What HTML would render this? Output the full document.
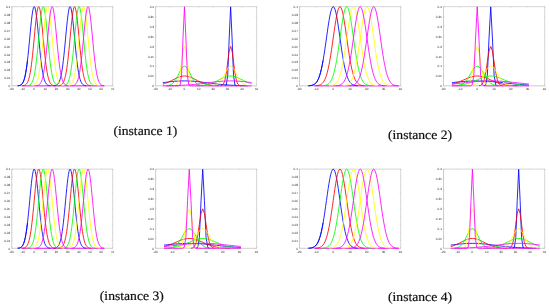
<!DOCTYPE html>
<html><head><meta charset="utf-8"><title>instances</title>
<style>
html,body{margin:0;padding:0;background:#fff;}
body{width:550px;height:307px;overflow:hidden;}
svg{display:block;}
.tk text{font-family:"Liberation Sans",sans-serif;font-size:3.1px;fill:#222;text-rendering:geometricPrecision;}
.cap{font-family:"Liberation Serif","DejaVu Serif",serif;font-size:12.9px;fill:#111;stroke:#111;stroke-width:0.2px;text-rendering:geometricPrecision;}
</style></head><body>
<svg width="550" height="307" viewBox="0 0 550 307">
<rect width="550" height="307" fill="#fff"/>
<path d="M11.80 6.65H112.70V85.85" fill="none" stroke="#b4b4b4" stroke-width="0.55"/>
<path d="M11.80 6.65V85.85H112.70" fill="none" stroke="#a4a4a4" stroke-width="0.55"/>
<path d="M11.80 85.85v-1M11.80 6.65v1M23.01 85.85v-1M23.01 6.65v1M34.22 85.85v-1M34.22 6.65v1M45.43 85.85v-1M45.43 6.65v1M56.64 85.85v-1M56.64 6.65v1M67.86 85.85v-1M67.86 6.65v1M79.07 85.85v-1M79.07 6.65v1M90.28 85.85v-1M90.28 6.65v1M101.49 85.85v-1M101.49 6.65v1M112.70 85.85v-1M112.70 6.65v1M11.80 85.85h1M112.70 85.85h-1M11.80 77.93h1M112.70 77.93h-1M11.80 70.01h1M112.70 70.01h-1M11.80 62.09h1M112.70 62.09h-1M11.80 54.17h1M112.70 54.17h-1M11.80 46.25h1M112.70 46.25h-1M11.80 38.33h1M112.70 38.33h-1M11.80 30.41h1M112.70 30.41h-1M11.80 22.49h1M112.70 22.49h-1M11.80 14.57h1M112.70 14.57h-1M11.80 6.65h1M112.70 6.65h-1" stroke="#b0b0b0" stroke-width="0.4" fill="none"/>
<g class="tk" text-anchor="middle">
<text x="11.60" y="90.30">-20</text>
<text x="22.81" y="90.30">-10</text>
<text x="34.02" y="90.30">0</text>
<text x="45.23" y="90.30">10</text>
<text x="56.44" y="90.30">20</text>
<text x="67.66" y="90.30">30</text>
<text x="78.87" y="90.30">40</text>
<text x="90.08" y="90.30">50</text>
<text x="101.29" y="90.30">60</text>
<text x="112.50" y="90.30">70</text>
</g>
<g class="tk" text-anchor="end">
<text x="10.20" y="87.20">0</text>
<text x="10.20" y="79.28">0.01</text>
<text x="10.20" y="71.36">0.02</text>
<text x="10.20" y="63.44">0.03</text>
<text x="10.20" y="55.52">0.04</text>
<text x="10.20" y="47.60">0.05</text>
<text x="10.20" y="39.68">0.06</text>
<text x="10.20" y="31.76">0.07</text>
<text x="10.20" y="23.84">0.08</text>
<text x="10.20" y="15.92">0.09</text>
<text x="10.20" y="8.00">0.1</text>
</g>
<polyline points="17.41,85.78 17.97,85.74 18.53,85.68 19.09,85.59 19.65,85.46 20.21,85.26 20.77,84.99 21.33,84.61 21.89,84.08 22.45,83.37 23.01,82.42 23.57,81.20 24.13,79.63 24.69,77.66 25.25,75.24 25.81,72.32 26.37,68.86 26.94,64.84 27.50,60.29" fill="none" stroke="#0000ff" stroke-width="0.85" stroke-linejoin="round"/>
<polyline points="21.55,85.85 104.29,85.85" fill="none" stroke="#ff00ff" stroke-width="0.85" stroke-linejoin="round"/>
<polyline points="17.97,85.74 18.53,85.68 19.09,85.59 19.65,85.46 20.21,85.26 20.77,84.99 21.33,84.61 21.89,84.08 22.45,83.37 23.01,82.42 23.57,81.20 24.13,79.63 24.69,77.66 25.25,75.24 25.81,72.32 26.37,68.86 26.94,64.84 27.50,60.29 28.06,55.23 28.62,49.74 29.18,43.93 29.74,37.94 30.30,31.95 30.86,26.16 31.42,20.78 31.98,16.01 32.54,12.06 33.10,9.11 33.66,7.28 34.22,6.66 34.78,7.28 35.34,9.11 35.90,12.06 36.46,16.01 37.03,20.78 37.59,26.16 38.15,31.95 38.71,37.94 39.27,43.93 39.83,49.74 40.39,55.23 40.95,60.29 41.51,64.84 42.07,68.86 42.63,72.32 43.19,75.24 43.75,77.66 44.31,79.63 44.87,81.20 45.43,82.42 45.99,83.37 46.55,84.08 47.12,84.61 47.68,84.99 48.24,85.26 48.80,85.46 49.36,85.59 49.92,85.68 50.48,85.74" fill="none" stroke="#0000ff" stroke-width="0.85" stroke-linejoin="round"/>
<polyline points="53.84,85.74 54.40,85.68 54.96,85.59 55.52,85.46 56.08,85.26 56.64,84.99 57.20,84.61 57.77,84.08 58.33,83.37 58.89,82.42 59.45,81.20 60.01,79.63 60.57,77.66 61.13,75.24 61.69,72.32 62.25,68.86 62.81,64.84 63.37,60.29 63.93,55.23 64.49,49.74 65.05,43.93 65.61,37.94 66.17,31.95 66.73,26.16 67.30,20.78 67.86,16.01 68.42,12.06 68.98,9.11 69.54,7.28 70.10,6.66 70.66,7.28 71.22,9.11 71.78,12.06 72.34,16.01 72.90,20.78 73.46,26.16 74.02,31.95 74.58,37.94 75.14,43.93 75.70,49.74 76.26,55.23 76.82,60.29 77.39,64.84 77.95,68.86 78.51,72.32 79.07,75.24 79.63,77.66 80.19,79.63 80.75,81.20 81.31,82.42 81.87,83.37 82.43,84.08 82.99,84.61 83.55,84.99 84.11,85.26 84.67,85.46 85.23,85.59 85.79,85.68 86.35,85.74" fill="none" stroke="#0000ff" stroke-width="0.85" stroke-linejoin="round"/>
<polyline points="22.45,85.74 23.01,85.68 23.57,85.59 24.13,85.46 24.69,85.26 25.25,84.99 25.81,84.61 26.37,84.08 26.94,83.37 27.50,82.42 28.06,81.20 28.62,79.63 29.18,77.66 29.74,75.24 30.30,72.32 30.86,68.86 31.42,64.84 31.98,60.29 32.54,55.23 33.10,49.74 33.66,43.93 34.22,37.94 34.78,31.95 35.34,26.16 35.90,20.78 36.46,16.01 37.03,12.06 37.59,9.11 38.15,7.28 38.71,6.66 39.27,7.28 39.83,9.11 40.39,12.06 40.95,16.01 41.51,20.78 42.07,26.16 42.63,31.95 43.19,37.94 43.75,43.93 44.31,49.74 44.87,55.23 45.43,60.29 45.99,64.84 46.55,68.86 47.12,72.32 47.68,75.24 48.24,77.66 48.80,79.63 49.36,81.20 49.92,82.42 50.48,83.37 51.04,84.08 51.60,84.61 52.16,84.99 52.72,85.26 53.28,85.46 53.84,85.59 54.40,85.68 54.96,85.74" fill="none" stroke="#ff0000" stroke-width="0.85" stroke-linejoin="round"/>
<polyline points="58.33,85.74 58.89,85.68 59.45,85.59 60.01,85.46 60.57,85.26 61.13,84.99 61.69,84.61 62.25,84.08 62.81,83.37 63.37,82.42 63.93,81.20 64.49,79.63 65.05,77.66 65.61,75.24 66.17,72.32 66.73,68.86 67.30,64.84 67.86,60.29 68.42,55.23 68.98,49.74 69.54,43.93 70.10,37.94 70.66,31.95 71.22,26.16 71.78,20.78 72.34,16.01 72.90,12.06 73.46,9.11 74.02,7.28 74.58,6.66 75.14,7.28 75.70,9.11 76.26,12.06 76.82,16.01 77.39,20.78 77.95,26.16 78.51,31.95 79.07,37.94 79.63,43.93 80.19,49.74 80.75,55.23 81.31,60.29 81.87,64.84 82.43,68.86 82.99,72.32 83.55,75.24 84.11,77.66 84.67,79.63 85.23,81.20 85.79,82.42 86.35,83.37 86.91,84.08 87.47,84.61 88.04,84.99 88.60,85.26 89.16,85.46 89.72,85.59 90.28,85.68 90.84,85.74" fill="none" stroke="#ff0000" stroke-width="0.85" stroke-linejoin="round"/>
<polyline points="26.94,85.74 27.50,85.68 28.06,85.59 28.62,85.46 29.18,85.26 29.74,84.99 30.30,84.61 30.86,84.08 31.42,83.37 31.98,82.42 32.54,81.20 33.10,79.63 33.66,77.66 34.22,75.24 34.78,72.32 35.34,68.86 35.90,64.84 36.46,60.29 37.03,55.23 37.59,49.74 38.15,43.93 38.71,37.94 39.27,31.95 39.83,26.16 40.39,20.78 40.95,16.01 41.51,12.06 42.07,9.11 42.63,7.28 43.19,6.66 43.75,7.28 44.31,9.11 44.87,12.06 45.43,16.01 45.99,20.78 46.55,26.16 47.12,31.95 47.68,37.94 48.24,43.93 48.80,49.74 49.36,55.23 49.92,60.29 50.48,64.84 51.04,68.86 51.60,72.32 52.16,75.24 52.72,77.66 53.28,79.63 53.84,81.20 54.40,82.42 54.96,83.37 55.52,84.08 56.08,84.61 56.64,84.99 57.20,85.26 57.77,85.46 58.33,85.59 58.89,85.68 59.45,85.74" fill="none" stroke="#00ff00" stroke-width="0.85" stroke-linejoin="round"/>
<polyline points="62.81,85.74 63.37,85.68 63.93,85.59 64.49,85.46 65.05,85.26 65.61,84.99 66.17,84.61 66.73,84.08 67.30,83.37 67.86,82.42 68.42,81.20 68.98,79.63 69.54,77.66 70.10,75.24 70.66,72.32 71.22,68.86 71.78,64.84 72.34,60.29 72.90,55.23 73.46,49.74 74.02,43.93 74.58,37.94 75.14,31.95 75.70,26.16 76.26,20.78 76.82,16.01 77.39,12.06 77.95,9.11 78.51,7.28 79.07,6.66 79.63,7.28 80.19,9.11 80.75,12.06 81.31,16.01 81.87,20.78 82.43,26.16 82.99,31.95 83.55,37.94 84.11,43.93 84.67,49.74 85.23,55.23 85.79,60.29 86.35,64.84 86.91,68.86 87.47,72.32 88.04,75.24 88.60,77.66 89.16,79.63 89.72,81.20 90.28,82.42 90.84,83.37 91.40,84.08 91.96,84.61 92.52,84.99 93.08,85.26 93.64,85.46 94.20,85.59 94.76,85.68 95.32,85.74" fill="none" stroke="#00ff00" stroke-width="0.85" stroke-linejoin="round"/>
<polyline points="31.42,85.74 31.98,85.68 32.54,85.59 33.10,85.46 33.66,85.26 34.22,84.99 34.78,84.61 35.34,84.08 35.90,83.37 36.46,82.42 37.03,81.20 37.59,79.63 38.15,77.66 38.71,75.24 39.27,72.32 39.83,68.86 40.39,64.84 40.95,60.29 41.51,55.23 42.07,49.74 42.63,43.93 43.19,37.94 43.75,31.95 44.31,26.16 44.87,20.78 45.43,16.01 45.99,12.06 46.55,9.11 47.12,7.28 47.68,6.66 48.24,7.28 48.80,9.11 49.36,12.06 49.92,16.01 50.48,20.78 51.04,26.16 51.60,31.95 52.16,37.94 52.72,43.93 53.28,49.74 53.84,55.23 54.40,60.29 54.96,64.84 55.52,68.86 56.08,72.32 56.64,75.24 57.20,77.66 57.77,79.63 58.33,81.20 58.89,82.42 59.45,83.37 60.01,84.08 60.57,84.61 61.13,84.99 61.69,85.26 62.25,85.46 62.81,85.59 63.37,85.68 63.93,85.74" fill="none" stroke="#ffff00" stroke-width="0.85" stroke-linejoin="round"/>
<polyline points="67.30,85.74 67.86,85.68 68.42,85.59 68.98,85.46 69.54,85.26 70.10,84.99 70.66,84.61 71.22,84.08 71.78,83.37 72.34,82.42 72.90,81.20 73.46,79.63 74.02,77.66 74.58,75.24 75.14,72.32 75.70,68.86 76.26,64.84 76.82,60.29 77.39,55.23 77.95,49.74 78.51,43.93 79.07,37.94 79.63,31.95 80.19,26.16 80.75,20.78 81.31,16.01 81.87,12.06 82.43,9.11 82.99,7.28 83.55,6.66 84.11,7.28 84.67,9.11 85.23,12.06 85.79,16.01 86.35,20.78 86.91,26.16 87.47,31.95 88.04,37.94 88.60,43.93 89.16,49.74 89.72,55.23 90.28,60.29 90.84,64.84 91.40,68.86 91.96,72.32 92.52,75.24 93.08,77.66 93.64,79.63 94.20,81.20 94.76,82.42 95.32,83.37 95.88,84.08 96.44,84.61 97.00,84.99 97.56,85.26 98.13,85.46 98.69,85.59 99.25,85.68 99.81,85.74" fill="none" stroke="#ffff00" stroke-width="0.85" stroke-linejoin="round"/>
<polyline points="35.90,85.74 36.46,85.68 37.03,85.59 37.59,85.46 38.15,85.26 38.71,84.99 39.27,84.61 39.83,84.08 40.39,83.37 40.95,82.42 41.51,81.20 42.07,79.63 42.63,77.66 43.19,75.24 43.75,72.32 44.31,68.86 44.87,64.84 45.43,60.29 45.99,55.23 46.55,49.74 47.12,43.93 47.68,37.94 48.24,31.95 48.80,26.16 49.36,20.78 49.92,16.01 50.48,12.06 51.04,9.11 51.60,7.28 52.16,6.66 52.72,7.28 53.28,9.11 53.84,12.06 54.40,16.01 54.96,20.78 55.52,26.16 56.08,31.95 56.64,37.94 57.20,43.93 57.77,49.74 58.33,55.23 58.89,60.29 59.45,64.84 60.01,68.86 60.57,72.32 61.13,75.24 61.69,77.66 62.25,79.63 62.81,81.20 63.37,82.42 63.93,83.37 64.49,84.08 65.05,84.61 65.61,84.99 66.17,85.26 66.73,85.46 67.30,85.59 67.86,85.68 68.42,85.74" fill="none" stroke="#ff00ff" stroke-width="0.85" stroke-linejoin="round"/>
<polyline points="71.78,85.74 72.34,85.68 72.90,85.59 73.46,85.46 74.02,85.26 74.58,84.99 75.14,84.61 75.70,84.08 76.26,83.37 76.82,82.42 77.39,81.20 77.95,79.63 78.51,77.66 79.07,75.24 79.63,72.32 80.19,68.86 80.75,64.84 81.31,60.29 81.87,55.23 82.43,49.74 82.99,43.93 83.55,37.94 84.11,31.95 84.67,26.16 85.23,20.78 85.79,16.01 86.35,12.06 86.91,9.11 87.47,7.28 88.04,6.66 88.60,7.28 89.16,9.11 89.72,12.06 90.28,16.01 90.84,20.78 91.40,26.16 91.96,31.95 92.52,37.94 93.08,43.93 93.64,49.74 94.20,55.23 94.76,60.29 95.32,64.84 95.88,68.86 96.44,72.32 97.00,75.24 97.56,77.66 98.13,79.63 98.69,81.20 99.25,82.42 99.81,83.37 100.37,84.08 100.93,84.61 101.49,84.99 102.05,85.26 102.61,85.46 103.17,85.59 103.73,85.68 104.29,85.74" fill="none" stroke="#ff00ff" stroke-width="0.85" stroke-linejoin="round"/>
<path d="M155.60 6.65H256.60V85.85" fill="none" stroke="#b4b4b4" stroke-width="0.55"/>
<path d="M155.60 6.65V85.85H256.60" fill="none" stroke="#a4a4a4" stroke-width="0.55"/>
<path d="M155.60 85.85v-1M155.60 6.65v1M170.03 85.85v-1M170.03 6.65v1M184.46 85.85v-1M184.46 6.65v1M198.89 85.85v-1M198.89 6.65v1M213.31 85.85v-1M213.31 6.65v1M227.74 85.85v-1M227.74 6.65v1M242.17 85.85v-1M242.17 6.65v1M256.60 85.85v-1M256.60 6.65v1M155.60 85.85h1M256.60 85.85h-1M155.60 75.95h1M256.60 75.95h-1M155.60 66.05h1M256.60 66.05h-1M155.60 56.15h1M256.60 56.15h-1M155.60 46.25h1M256.60 46.25h-1M155.60 36.35h1M256.60 36.35h-1M155.60 26.45h1M256.60 26.45h-1M155.60 16.55h1M256.60 16.55h-1M155.60 6.65h1M256.60 6.65h-1" stroke="#b0b0b0" stroke-width="0.4" fill="none"/>
<g class="tk" text-anchor="middle">
<text x="155.40" y="90.30">-20</text>
<text x="169.83" y="90.30">-10</text>
<text x="184.26" y="90.30">0</text>
<text x="198.69" y="90.30">10</text>
<text x="213.11" y="90.30">20</text>
<text x="227.54" y="90.30">30</text>
<text x="241.97" y="90.30">40</text>
<text x="256.40" y="90.30">50</text>
</g>
<g class="tk" text-anchor="end">
<text x="154.00" y="87.20">0</text>
<text x="154.00" y="77.30">0.05</text>
<text x="154.00" y="67.40">0.1</text>
<text x="154.00" y="57.50">0.15</text>
<text x="154.00" y="47.60">0.2</text>
<text x="154.00" y="37.70">0.25</text>
<text x="154.00" y="27.80">0.3</text>
<text x="154.00" y="17.90">0.35</text>
<text x="154.00" y="8.00">0.4</text>
</g>
<polyline points="224.86,85.82 226.30,84.97 227.74,75.16 229.19,37.94 230.63,6.86 232.07,37.94 233.51,75.16 234.96,84.97 236.40,85.82" fill="none" stroke="#0000ff" stroke-width="0.85" stroke-linejoin="round"/>
<polyline points="162.81,82.67 164.26,82.48 165.70,82.30 167.14,82.12 168.59,81.95 170.03,81.79 171.47,81.64 172.91,81.49 174.36,81.36 175.80,81.25 177.24,81.15 178.69,81.06 180.13,81.00 181.57,80.95 183.01,80.92 184.46,80.91 185.90,80.92 187.34,80.95 188.79,81.00 190.23,81.06 191.67,81.15 193.11,81.25 194.56,81.36 196.00,81.49 197.44,81.64 198.89,81.79 200.33,81.95 201.77,82.12 203.21,82.30 204.66,82.48 206.10,82.67 207.54,82.86 208.99,83.04 210.43,83.23 211.87,83.41 213.31,83.59 214.76,83.76 216.20,83.93 217.64,84.09 219.09,84.25 220.53,84.39 221.97,84.53 223.41,84.66 224.86,84.78 226.30,84.89 227.74,85.00 229.19,85.09 230.63,85.18 232.07,85.26 233.51,85.33 234.96,85.40 236.40,85.46 237.84,85.51 239.29,85.56 240.73,85.60 242.17,85.63 243.61,85.66 245.06,85.69 246.50,85.72 247.94,85.74" fill="none" stroke="#0000ff" stroke-width="0.85" stroke-linejoin="round"/>
<polyline points="220.53,85.76 221.97,85.41 223.41,84.11 224.86,80.50 226.30,73.03 227.74,61.89 229.19,51.00 230.63,46.35 232.07,51.00 233.51,61.89 234.96,73.03 236.40,80.50 237.84,84.11 239.29,85.41 240.73,85.76" fill="none" stroke="#ff0000" stroke-width="0.85" stroke-linejoin="round"/>
<polyline points="162.81,84.15 164.26,83.71 165.70,83.21 167.14,82.64 168.59,82.01 170.03,81.33 171.47,80.61 172.91,79.86 174.36,79.12 175.80,78.40 177.24,77.73 178.69,77.14 180.13,76.65 181.57,76.28 183.01,76.05 184.46,75.98 185.90,76.05 187.34,76.28 188.79,76.65 190.23,77.14 191.67,77.73 193.11,78.40 194.56,79.12 196.00,79.86 197.44,80.61 198.89,81.33 200.33,82.01 201.77,82.64 203.21,83.21 204.66,83.71 206.10,84.15 207.54,84.51 208.99,84.82 210.43,85.06 211.87,85.26 213.31,85.42 214.76,85.54 216.20,85.62 217.64,85.69 219.09,85.74" fill="none" stroke="#ff0000" stroke-width="0.85" stroke-linejoin="round"/>
<polyline points="196.00,85.74 197.44,85.69 198.89,85.62 200.33,85.54 201.77,85.42 203.21,85.26 204.66,85.06 206.10,84.82 207.54,84.51 208.99,84.15 210.43,83.71 211.87,83.21 213.31,82.64 214.76,82.01 216.20,81.33 217.64,80.61 219.09,79.86 220.53,79.12 221.97,78.40 223.41,77.73 224.86,77.14 226.30,76.65 227.74,76.28 229.19,76.05 230.63,75.98 232.07,76.05 233.51,76.28 234.96,76.65 236.40,77.14 237.84,77.73 239.29,78.40 240.73,79.12 242.17,79.86 243.61,80.61 245.06,81.33 246.50,82.01 247.94,82.64 249.39,83.21 250.83,83.71 251.69,83.98" fill="none" stroke="#00ff00" stroke-width="0.85" stroke-linejoin="round"/>
<polyline points="165.70,85.75 167.14,85.63 168.59,85.40 170.03,84.98 171.47,84.28 172.91,83.18 174.36,81.58 175.80,79.44 177.24,76.81 178.69,73.87 180.13,70.94 181.57,68.42 183.01,66.71 184.46,66.10 185.90,66.71 187.34,68.42 188.79,70.94 190.23,73.87 191.67,76.81 193.11,79.44 194.56,81.58 196.00,83.18 197.44,84.28 198.89,84.98 200.33,85.40 201.77,85.63 203.21,85.75" fill="none" stroke="#00ff00" stroke-width="0.85" stroke-linejoin="round"/>
<polyline points="211.87,85.75 213.31,85.63 214.76,85.40 216.20,84.98 217.64,84.28 219.09,83.18 220.53,81.58 221.97,79.44 223.41,76.81 224.86,73.87 226.30,70.94 227.74,68.42 229.19,66.71 230.63,66.10 232.07,66.71 233.51,68.42 234.96,70.94 236.40,73.87 237.84,76.81 239.29,79.44 240.73,81.58 242.17,83.18 243.61,84.28 245.06,84.98 246.50,85.40 247.94,85.63 249.39,85.75" fill="none" stroke="#ffff00" stroke-width="0.85" stroke-linejoin="round"/>
<polyline points="174.36,85.76 175.80,85.41 177.24,84.11 178.69,80.50 180.13,73.03 181.57,61.89 183.01,51.00 184.46,46.35 185.90,51.00 187.34,61.89 188.79,73.03 190.23,80.50 191.67,84.11 193.11,85.41 194.56,85.76" fill="none" stroke="#ffff00" stroke-width="0.85" stroke-linejoin="round"/>
<polyline points="167.14,85.74 168.59,85.72 170.03,85.69 171.47,85.66 172.91,85.63 174.36,85.60 175.80,85.56 177.24,85.51 178.69,85.46 180.13,85.40 181.57,85.33 183.01,85.26 184.46,85.18 185.90,85.09 187.34,85.00 188.79,84.89 190.23,84.78 191.67,84.66 193.11,84.53 194.56,84.39 196.00,84.25 197.44,84.09 198.89,83.93 200.33,83.76 201.77,83.59 203.21,83.41 204.66,83.23 206.10,83.04 207.54,82.86 208.99,82.67 210.43,82.48 211.87,82.30 213.31,82.12 214.76,81.95 216.20,81.79 217.64,81.64 219.09,81.49 220.53,81.36 221.97,81.25 223.41,81.15 224.86,81.06 226.30,81.00 227.74,80.95 229.19,80.92 230.63,80.91 232.07,80.92 233.51,80.95 234.96,81.00 236.40,81.06 237.84,81.15 239.29,81.25 240.73,81.36 242.17,81.49 243.61,81.64 245.06,81.79 246.50,81.95 247.94,82.12 249.39,82.30 250.83,82.48 251.69,82.59" fill="none" stroke="#ff00ff" stroke-width="0.85" stroke-linejoin="round"/>
<polyline points="162.81,85.85 164.26,85.85 165.70,85.85 167.14,85.85 168.59,85.85 170.03,85.85 171.47,85.85 172.91,85.85 174.36,85.85 175.80,85.85 177.24,85.85 178.69,85.82 180.13,84.97 181.57,75.16 183.01,37.94 184.46,6.86 185.90,37.94 187.34,75.16 188.79,84.97 190.23,85.82 191.67,85.85 193.11,85.85 194.56,85.85 196.00,85.85 197.44,85.85 198.89,85.85 200.33,85.85 201.77,85.85 203.21,85.85 204.66,85.85 206.10,85.85 207.54,85.85 208.99,85.85 210.43,85.85 211.87,85.85 213.31,85.85 214.76,85.85 216.20,85.85 217.64,85.85 219.09,85.85 220.53,85.85 221.97,85.85 223.41,85.85 224.86,85.85 226.30,85.85 227.74,85.85 229.19,85.85 230.63,85.85 232.07,85.85 233.51,85.85 234.96,85.85 236.40,85.85 237.84,85.85 239.29,85.85 240.73,85.85 242.17,85.85 243.61,85.85 245.06,85.85 246.50,85.85 247.94,85.85 249.39,85.85 250.83,85.85 251.69,85.85" fill="none" stroke="#ff00ff" stroke-width="0.85" stroke-linejoin="round"/>
<path d="M299.50 6.65H400.70V85.85" fill="none" stroke="#b4b4b4" stroke-width="0.55"/>
<path d="M299.50 6.65V85.85H400.70" fill="none" stroke="#a4a4a4" stroke-width="0.55"/>
<path d="M299.50 85.85v-1M299.50 6.65v1M316.37 85.85v-1M316.37 6.65v1M333.23 85.85v-1M333.23 6.65v1M350.10 85.85v-1M350.10 6.65v1M366.97 85.85v-1M366.97 6.65v1M383.83 85.85v-1M383.83 6.65v1M400.70 85.85v-1M400.70 6.65v1M299.50 85.85h1M400.70 85.85h-1M299.50 77.93h1M400.70 77.93h-1M299.50 70.01h1M400.70 70.01h-1M299.50 62.09h1M400.70 62.09h-1M299.50 54.17h1M400.70 54.17h-1M299.50 46.25h1M400.70 46.25h-1M299.50 38.33h1M400.70 38.33h-1M299.50 30.41h1M400.70 30.41h-1M299.50 22.49h1M400.70 22.49h-1M299.50 14.57h1M400.70 14.57h-1M299.50 6.65h1M400.70 6.65h-1" stroke="#b0b0b0" stroke-width="0.4" fill="none"/>
<g class="tk" text-anchor="middle">
<text x="299.30" y="90.30">-20</text>
<text x="316.17" y="90.30">-10</text>
<text x="333.03" y="90.30">0</text>
<text x="349.90" y="90.30">10</text>
<text x="366.77" y="90.30">20</text>
<text x="383.63" y="90.30">30</text>
<text x="400.50" y="90.30">40</text>
</g>
<g class="tk" text-anchor="end">
<text x="297.90" y="87.20">0</text>
<text x="297.90" y="79.28">0.01</text>
<text x="297.90" y="71.36">0.02</text>
<text x="297.90" y="63.44">0.03</text>
<text x="297.90" y="55.52">0.04</text>
<text x="297.90" y="47.60">0.05</text>
<text x="297.90" y="39.68">0.06</text>
<text x="297.90" y="31.76">0.07</text>
<text x="297.90" y="23.84">0.08</text>
<text x="297.90" y="15.92">0.09</text>
<text x="297.90" y="8.00">0.1</text>
</g>
<polyline points="307.93,85.78 308.78,85.74 309.62,85.68 310.46,85.59 311.31,85.46 312.15,85.26 312.99,84.99 313.84,84.61 314.68,84.08 315.52,83.37 316.37,82.42 317.21,81.20 318.05,79.63 318.90,77.66 319.74,75.24 320.58,72.32 321.43,68.86 322.27,64.84 323.11,60.29" fill="none" stroke="#0000ff" stroke-width="0.85" stroke-linejoin="round"/>
<polyline points="314.17,85.85 399.01,85.85" fill="none" stroke="#ff00ff" stroke-width="0.85" stroke-linejoin="round"/>
<polyline points="308.78,85.74 309.62,85.68 310.46,85.59 311.31,85.46 312.15,85.26 312.99,84.99 313.84,84.61 314.68,84.08 315.52,83.37 316.37,82.42 317.21,81.20 318.05,79.63 318.90,77.66 319.74,75.24 320.58,72.32 321.43,68.86 322.27,64.84 323.11,60.29 323.96,55.23 324.80,49.74 325.64,43.93 326.49,37.94 327.33,31.95 328.17,26.16 329.02,20.78 329.86,16.01 330.70,12.06 331.55,9.11 332.39,7.28 333.23,6.66 334.08,7.28 334.92,9.11 335.76,12.06 336.61,16.01 337.45,20.78 338.29,26.16 339.14,31.95 339.98,37.94 340.82,43.93 341.67,49.74 342.51,55.23 343.35,60.29 344.20,64.84 345.04,68.86 345.88,72.32 346.73,75.24 347.57,77.66 348.41,79.63 349.26,81.20 350.10,82.42 350.94,83.37 351.79,84.08 352.63,84.61 353.47,84.99 354.32,85.26 355.16,85.46 356.00,85.59 356.85,85.68 357.69,85.74" fill="none" stroke="#0000ff" stroke-width="0.85" stroke-linejoin="round"/>
<polyline points="315.52,85.74 316.37,85.68 317.21,85.59 318.05,85.46 318.90,85.26 319.74,84.99 320.58,84.61 321.43,84.08 322.27,83.37 323.11,82.42 323.96,81.20 324.80,79.63 325.64,77.66 326.49,75.24 327.33,72.32 328.17,68.86 329.02,64.84 329.86,60.29 330.70,55.23 331.55,49.74 332.39,43.93 333.23,37.94 334.08,31.95 334.92,26.16 335.76,20.78 336.61,16.01 337.45,12.06 338.29,9.11 339.14,7.28 339.98,6.66 340.82,7.28 341.67,9.11 342.51,12.06 343.35,16.01 344.20,20.78 345.04,26.16 345.88,31.95 346.73,37.94 347.57,43.93 348.41,49.74 349.26,55.23 350.10,60.29 350.94,64.84 351.79,68.86 352.63,72.32 353.47,75.24 354.32,77.66 355.16,79.63 356.00,81.20 356.85,82.42 357.69,83.37 358.53,84.08 359.38,84.61 360.22,84.99 361.06,85.26 361.91,85.46 362.75,85.59 363.59,85.68 364.44,85.74" fill="none" stroke="#ff0000" stroke-width="0.85" stroke-linejoin="round"/>
<polyline points="322.27,85.74 323.11,85.68 323.96,85.59 324.80,85.46 325.64,85.26 326.49,84.99 327.33,84.61 328.17,84.08 329.02,83.37 329.86,82.42 330.70,81.20 331.55,79.63 332.39,77.66 333.23,75.24 334.08,72.32 334.92,68.86 335.76,64.84 336.61,60.29 337.45,55.23 338.29,49.74 339.14,43.93 339.98,37.94 340.82,31.95 341.67,26.16 342.51,20.78 343.35,16.01 344.20,12.06 345.04,9.11 345.88,7.28 346.73,6.66 347.57,7.28 348.41,9.11 349.26,12.06 350.10,16.01 350.94,20.78 351.79,26.16 352.63,31.95 353.47,37.94 354.32,43.93 355.16,49.74 356.00,55.23 356.85,60.29 357.69,64.84 358.53,68.86 359.38,72.32 360.22,75.24 361.06,77.66 361.91,79.63 362.75,81.20 363.59,82.42 364.44,83.37 365.28,84.08 366.12,84.61 366.97,84.99 367.81,85.26 368.65,85.46 369.50,85.59 370.34,85.68 371.18,85.74" fill="none" stroke="#00ff00" stroke-width="0.85" stroke-linejoin="round"/>
<polyline points="329.02,85.74 329.86,85.68 330.70,85.59 331.55,85.46 332.39,85.26 333.23,84.99 334.08,84.61 334.92,84.08 335.76,83.37 336.61,82.42 337.45,81.20 338.29,79.63 339.14,77.66 339.98,75.24 340.82,72.32 341.67,68.86 342.51,64.84 343.35,60.29 344.20,55.23 345.04,49.74 345.88,43.93 346.73,37.94 347.57,31.95 348.41,26.16 349.26,20.78 350.10,16.01 350.94,12.06 351.79,9.11 352.63,7.28 353.47,6.66 354.32,7.28 355.16,9.11 356.00,12.06 356.85,16.01 357.69,20.78 358.53,26.16 359.38,31.95 360.22,37.94 361.06,43.93 361.91,49.74 362.75,55.23 363.59,60.29 364.44,64.84 365.28,68.86 366.12,72.32 366.97,75.24 367.81,77.66 368.65,79.63 369.50,81.20 370.34,82.42 371.18,83.37 372.03,84.08 372.87,84.61 373.71,84.99 374.56,85.26 375.40,85.46 376.24,85.59 377.09,85.68 377.93,85.74" fill="none" stroke="#ffff00" stroke-width="0.85" stroke-linejoin="round"/>
<polyline points="342.51,85.74 343.35,85.68 344.20,85.59 345.04,85.46 345.88,85.26 346.73,84.99 347.57,84.61 348.41,84.08 349.26,83.37 350.10,82.42 350.94,81.20 351.79,79.63 352.63,77.66 353.47,75.24 354.32,72.32 355.16,68.86 356.00,64.84 356.85,60.29 357.69,55.23 358.53,49.74 359.38,43.93 360.22,37.94 361.06,31.95 361.91,26.16 362.75,20.78 363.59,16.01 364.44,12.06 365.28,9.11 366.12,7.28 366.97,6.66 367.81,7.28 368.65,9.11 369.50,12.06 370.34,16.01 371.18,20.78 372.03,26.16 372.87,31.95 373.71,37.94 374.56,43.93 375.40,49.74 376.24,55.23 377.09,60.29 377.93,64.84 378.77,68.86 379.62,72.32 380.46,75.24 381.30,77.66 382.15,79.63 382.99,81.20 383.83,82.42 384.68,83.37 385.52,84.08 386.36,84.61 387.21,84.99 388.05,85.26 388.89,85.46 389.74,85.59 390.58,85.68 391.42,85.74" fill="none" stroke="#ffff00" stroke-width="0.85" stroke-linejoin="round"/>
<polyline points="335.76,85.74 336.61,85.68 337.45,85.59 338.29,85.46 339.14,85.26 339.98,84.99 340.82,84.61 341.67,84.08 342.51,83.37 343.35,82.42 344.20,81.20 345.04,79.63 345.88,77.66 346.73,75.24 347.57,72.32 348.41,68.86 349.26,64.84 350.10,60.29 350.94,55.23 351.79,49.74 352.63,43.93 353.47,37.94 354.32,31.95 355.16,26.16 356.00,20.78 356.85,16.01 357.69,12.06 358.53,9.11 359.38,7.28 360.22,6.66 361.06,7.28 361.91,9.11 362.75,12.06 363.59,16.01 364.44,20.78 365.28,26.16 366.12,31.95 366.97,37.94 367.81,43.93 368.65,49.74 369.50,55.23 370.34,60.29 371.18,64.84 372.03,68.86 372.87,72.32 373.71,75.24 374.56,77.66 375.40,79.63 376.24,81.20 377.09,82.42 377.93,83.37 378.77,84.08 379.62,84.61 380.46,84.99 381.30,85.26 382.15,85.46 382.99,85.59 383.83,85.68 384.68,85.74" fill="none" stroke="#ff00ff" stroke-width="0.85" stroke-linejoin="round"/>
<polyline points="349.26,85.74 350.10,85.68 350.94,85.59 351.79,85.46 352.63,85.26 353.47,84.99 354.32,84.61 355.16,84.08 356.00,83.37 356.85,82.42 357.69,81.20 358.53,79.63 359.38,77.66 360.22,75.24 361.06,72.32 361.91,68.86 362.75,64.84 363.59,60.29 364.44,55.23 365.28,49.74 366.12,43.93 366.97,37.94 367.81,31.95 368.65,26.16 369.50,20.78 370.34,16.01 371.18,12.06 372.03,9.11 372.87,7.28 373.71,6.66 374.56,7.28 375.40,9.11 376.24,12.06 377.09,16.01 377.93,20.78 378.77,26.16 379.62,31.95 380.46,37.94 381.30,43.93 382.15,49.74 382.99,55.23 383.83,60.29 384.68,64.84 385.52,68.86 386.36,72.32 387.21,75.24 388.05,77.66 388.89,79.63 389.74,81.20 390.58,82.42 391.42,83.37 392.27,84.08 393.11,84.61 393.95,84.99 394.80,85.26 395.64,85.46 396.48,85.59 397.33,85.68 398.17,85.74" fill="none" stroke="#ff00ff" stroke-width="0.85" stroke-linejoin="round"/>
<path d="M443.50 6.65H544.70V85.85" fill="none" stroke="#b4b4b4" stroke-width="0.55"/>
<path d="M443.50 6.65V85.85H544.70" fill="none" stroke="#a4a4a4" stroke-width="0.55"/>
<path d="M443.50 85.85v-1M443.50 6.65v1M460.37 85.85v-1M460.37 6.65v1M477.23 85.85v-1M477.23 6.65v1M494.10 85.85v-1M494.10 6.65v1M510.97 85.85v-1M510.97 6.65v1M527.83 85.85v-1M527.83 6.65v1M544.70 85.85v-1M544.70 6.65v1M443.50 85.85h1M544.70 85.85h-1M443.50 75.95h1M544.70 75.95h-1M443.50 66.05h1M544.70 66.05h-1M443.50 56.15h1M544.70 56.15h-1M443.50 46.25h1M544.70 46.25h-1M443.50 36.35h1M544.70 36.35h-1M443.50 26.45h1M544.70 26.45h-1M443.50 16.55h1M544.70 16.55h-1M443.50 6.65h1M544.70 6.65h-1" stroke="#b0b0b0" stroke-width="0.4" fill="none"/>
<g class="tk" text-anchor="middle">
<text x="443.30" y="90.30">-20</text>
<text x="460.17" y="90.30">-10</text>
<text x="477.03" y="90.30">0</text>
<text x="493.90" y="90.30">10</text>
<text x="510.77" y="90.30">20</text>
<text x="527.63" y="90.30">30</text>
<text x="544.50" y="90.30">40</text>
</g>
<g class="tk" text-anchor="end">
<text x="441.90" y="87.20">0</text>
<text x="441.90" y="77.30">0.05</text>
<text x="441.90" y="67.40">0.1</text>
<text x="441.90" y="57.50">0.15</text>
<text x="441.90" y="47.60">0.2</text>
<text x="441.90" y="37.70">0.25</text>
<text x="441.90" y="27.80">0.3</text>
<text x="441.90" y="17.90">0.35</text>
<text x="441.90" y="8.00">0.4</text>
</g>
<polyline points="483.98,85.82 485.67,84.97 487.35,75.16 489.04,37.94 490.73,6.86 492.41,37.94 494.10,75.16 495.79,84.97 497.47,85.82" fill="none" stroke="#0000ff" stroke-width="0.85" stroke-linejoin="round"/>
<polyline points="451.93,82.67 453.62,82.48 455.31,82.30 456.99,82.12 458.68,81.95 460.37,81.79 462.05,81.64 463.74,81.49 465.43,81.36 467.11,81.25 468.80,81.15 470.49,81.06 472.17,81.00 473.86,80.95 475.55,80.92 477.23,80.91 478.92,80.92 480.61,80.95 482.29,81.00 483.98,81.06 485.67,81.15 487.35,81.25 489.04,81.36 490.73,81.49 492.41,81.64 494.10,81.79 495.79,81.95 497.47,82.12 499.16,82.30 500.85,82.48 502.53,82.67 504.22,82.86 505.91,83.04 507.59,83.23 509.28,83.41 510.97,83.59 512.65,83.76 514.34,83.93 516.03,84.09 517.71,84.25 519.40,84.39 521.09,84.53 522.77,84.66 524.46,84.78 526.15,84.89 527.83,85.00 528.85,85.06" fill="none" stroke="#0000ff" stroke-width="0.85" stroke-linejoin="round"/>
<polyline points="478.92,85.76 480.61,85.41 482.29,84.11 483.98,80.50 485.67,73.03 487.35,61.89 489.04,51.00 490.73,46.35 492.41,51.00 494.10,61.89 495.79,73.03 497.47,80.50 499.16,84.11 500.85,85.41 502.53,85.76" fill="none" stroke="#ff0000" stroke-width="0.85" stroke-linejoin="round"/>
<polyline points="451.93,84.15 453.62,83.71 455.31,83.21 456.99,82.64 458.68,82.01 460.37,81.33 462.05,80.61 463.74,79.86 465.43,79.12 467.11,78.40 468.80,77.73 470.49,77.14 472.17,76.65 473.86,76.28 475.55,76.05 477.23,75.98 478.92,76.05 480.61,76.28 482.29,76.65 483.98,77.14 485.67,77.73 487.35,78.40 489.04,79.12 490.73,79.86 492.41,80.61 494.10,81.33 495.79,82.01 497.47,82.64 499.16,83.21 500.85,83.71 502.53,84.15 504.22,84.51 505.91,84.82 507.59,85.06 509.28,85.26 510.97,85.42 512.65,85.54 514.34,85.62 516.03,85.69 517.71,85.74" fill="none" stroke="#ff0000" stroke-width="0.85" stroke-linejoin="round"/>
<polyline points="451.93,85.69 453.62,85.62 455.31,85.54 456.99,85.42 458.68,85.26 460.37,85.06 462.05,84.82 463.74,84.51 465.43,84.15 467.11,83.71 468.80,83.21 470.49,82.64 472.17,82.01 473.86,81.33 475.55,80.61 477.23,79.86 478.92,79.12 480.61,78.40 482.29,77.73 483.98,77.14 485.67,76.65 487.35,76.28 489.04,76.05 490.73,75.98 492.41,76.05 494.10,76.28 495.79,76.65 497.47,77.14 499.16,77.73 500.85,78.40 502.53,79.12 504.22,79.86 505.91,80.61 507.59,81.33 509.28,82.01 510.97,82.64 512.65,83.21 514.34,83.71 516.03,84.15 517.71,84.51 519.40,84.82 521.09,85.06 522.77,85.26 524.46,85.42 526.15,85.54 527.83,85.62 528.85,85.67" fill="none" stroke="#00ff00" stroke-width="0.85" stroke-linejoin="round"/>
<polyline points="455.31,85.75 456.99,85.63 458.68,85.40 460.37,84.98 462.05,84.28 463.74,83.18 465.43,81.58 467.11,79.44 468.80,76.81 470.49,73.87 472.17,70.94 473.86,68.42 475.55,66.71 477.23,66.10 478.92,66.71 480.61,68.42 482.29,70.94 483.98,73.87 485.67,76.81 487.35,79.44 489.04,81.58 490.73,83.18 492.41,84.28 494.10,84.98 495.79,85.40 497.47,85.63 499.16,85.75" fill="none" stroke="#00ff00" stroke-width="0.85" stroke-linejoin="round"/>
<polyline points="468.80,85.75 470.49,85.63 472.17,85.40 473.86,84.98 475.55,84.28 477.23,83.18 478.92,81.58 480.61,79.44 482.29,76.81 483.98,73.87 485.67,70.94 487.35,68.42 489.04,66.71 490.73,66.10 492.41,66.71 494.10,68.42 495.79,70.94 497.47,73.87 499.16,76.81 500.85,79.44 502.53,81.58 504.22,83.18 505.91,84.28 507.59,84.98 509.28,85.40 510.97,85.63 512.65,85.75" fill="none" stroke="#ffff00" stroke-width="0.85" stroke-linejoin="round"/>
<polyline points="465.43,85.76 467.11,85.41 468.80,84.11 470.49,80.50 472.17,73.03 473.86,61.89 475.55,51.00 477.23,46.35 478.92,51.00 480.61,61.89 482.29,73.03 483.98,80.50 485.67,84.11 487.35,85.41 489.04,85.76" fill="none" stroke="#ffff00" stroke-width="0.85" stroke-linejoin="round"/>
<polyline points="451.93,84.09 453.62,83.93 455.31,83.76 456.99,83.59 458.68,83.41 460.37,83.23 462.05,83.04 463.74,82.86 465.43,82.67 467.11,82.48 468.80,82.30 470.49,82.12 472.17,81.95 473.86,81.79 475.55,81.64 477.23,81.49 478.92,81.36 480.61,81.25 482.29,81.15 483.98,81.06 485.67,81.00 487.35,80.95 489.04,80.92 490.73,80.91 492.41,80.92 494.10,80.95 495.79,81.00 497.47,81.06 499.16,81.15 500.85,81.25 502.53,81.36 504.22,81.49 505.91,81.64 507.59,81.79 509.28,81.95 510.97,82.12 512.65,82.30 514.34,82.48 516.03,82.67 517.71,82.86 519.40,83.04 521.09,83.23 522.77,83.41 524.46,83.59 526.15,83.76 527.83,83.93 528.85,84.03" fill="none" stroke="#ff00ff" stroke-width="0.85" stroke-linejoin="round"/>
<polyline points="451.93,85.85 453.62,85.85 455.31,85.85 456.99,85.85 458.68,85.85 460.37,85.85 462.05,85.85 463.74,85.85 465.43,85.85 467.11,85.85 468.80,85.85 470.49,85.82 472.17,84.97 473.86,75.16 475.55,37.94 477.23,6.86 478.92,37.94 480.61,75.16 482.29,84.97 483.98,85.82 485.67,85.85 487.35,85.85 489.04,85.85 490.73,85.85 492.41,85.85 494.10,85.85 495.79,85.85 497.47,85.85 499.16,85.85 500.85,85.85 502.53,85.85 504.22,85.85 505.91,85.85 507.59,85.85 509.28,85.85 510.97,85.85 512.65,85.85 514.34,85.85 516.03,85.85 517.71,85.85 519.40,85.85 521.09,85.85 522.77,85.85 524.46,85.85 526.15,85.85 527.83,85.85 528.85,85.85" fill="none" stroke="#ff00ff" stroke-width="0.85" stroke-linejoin="round"/>
<path d="M11.80 169.10H112.70V248.30" fill="none" stroke="#b4b4b4" stroke-width="0.55"/>
<path d="M11.80 169.10V248.30H112.70" fill="none" stroke="#a4a4a4" stroke-width="0.55"/>
<path d="M11.80 248.30v-1M11.80 169.10v1M23.01 248.30v-1M23.01 169.10v1M34.22 248.30v-1M34.22 169.10v1M45.43 248.30v-1M45.43 169.10v1M56.64 248.30v-1M56.64 169.10v1M67.86 248.30v-1M67.86 169.10v1M79.07 248.30v-1M79.07 169.10v1M90.28 248.30v-1M90.28 169.10v1M101.49 248.30v-1M101.49 169.10v1M112.70 248.30v-1M112.70 169.10v1M11.80 248.30h1M112.70 248.30h-1M11.80 240.38h1M112.70 240.38h-1M11.80 232.46h1M112.70 232.46h-1M11.80 224.54h1M112.70 224.54h-1M11.80 216.62h1M112.70 216.62h-1M11.80 208.70h1M112.70 208.70h-1M11.80 200.78h1M112.70 200.78h-1M11.80 192.86h1M112.70 192.86h-1M11.80 184.94h1M112.70 184.94h-1M11.80 177.02h1M112.70 177.02h-1M11.80 169.10h1M112.70 169.10h-1" stroke="#b0b0b0" stroke-width="0.4" fill="none"/>
<g class="tk" text-anchor="middle">
<text x="11.60" y="252.75">-20</text>
<text x="22.81" y="252.75">-10</text>
<text x="34.02" y="252.75">0</text>
<text x="45.23" y="252.75">10</text>
<text x="56.44" y="252.75">20</text>
<text x="67.66" y="252.75">30</text>
<text x="78.87" y="252.75">40</text>
<text x="90.08" y="252.75">50</text>
<text x="101.29" y="252.75">60</text>
<text x="112.50" y="252.75">70</text>
</g>
<g class="tk" text-anchor="end">
<text x="10.20" y="249.65">0</text>
<text x="10.20" y="241.73">0.01</text>
<text x="10.20" y="233.81">0.02</text>
<text x="10.20" y="225.89">0.03</text>
<text x="10.20" y="217.97">0.04</text>
<text x="10.20" y="210.05">0.05</text>
<text x="10.20" y="202.13">0.06</text>
<text x="10.20" y="194.21">0.07</text>
<text x="10.20" y="186.29">0.08</text>
<text x="10.20" y="178.37">0.09</text>
<text x="10.20" y="170.45">0.1</text>
</g>
<polyline points="17.41,248.23 17.97,248.19 18.53,248.13 19.09,248.04 19.65,247.91 20.21,247.71 20.77,247.44 21.33,247.06 21.89,246.53 22.45,245.82 23.01,244.87 23.57,243.65 24.13,242.08 24.69,240.11 25.25,237.69 25.81,234.77 26.37,231.31 26.94,227.29 27.50,222.74" fill="none" stroke="#0000ff" stroke-width="0.85" stroke-linejoin="round"/>
<polyline points="21.55,248.30 104.29,248.30" fill="none" stroke="#ff00ff" stroke-width="0.85" stroke-linejoin="round"/>
<polyline points="17.97,248.19 18.53,248.13 19.09,248.04 19.65,247.91 20.21,247.71 20.77,247.44 21.33,247.06 21.89,246.53 22.45,245.82 23.01,244.87 23.57,243.65 24.13,242.08 24.69,240.11 25.25,237.69 25.81,234.77 26.37,231.31 26.94,227.29 27.50,222.74 28.06,217.68 28.62,212.19 29.18,206.38 29.74,200.39 30.30,194.40 30.86,188.61 31.42,183.23 31.98,178.46 32.54,174.51 33.10,171.56 33.66,169.73 34.22,169.11 34.78,169.73 35.34,171.56 35.90,174.51 36.46,178.46 37.03,183.23 37.59,188.61 38.15,194.40 38.71,200.39 39.27,206.38 39.83,212.19 40.39,217.68 40.95,222.74 41.51,227.29 42.07,231.31 42.63,234.77 43.19,237.69 43.75,240.11 44.31,242.08 44.87,243.65 45.43,244.87 45.99,245.82 46.55,246.53 47.12,247.06 47.68,247.44 48.24,247.71 48.80,247.91 49.36,248.04 49.92,248.13 50.48,248.19" fill="none" stroke="#0000ff" stroke-width="0.85" stroke-linejoin="round"/>
<polyline points="53.84,248.19 54.40,248.13 54.96,248.04 55.52,247.91 56.08,247.71 56.64,247.44 57.20,247.06 57.77,246.53 58.33,245.82 58.89,244.87 59.45,243.65 60.01,242.08 60.57,240.11 61.13,237.69 61.69,234.77 62.25,231.31 62.81,227.29 63.37,222.74 63.93,217.68 64.49,212.19 65.05,206.38 65.61,200.39 66.17,194.40 66.73,188.61 67.30,183.23 67.86,178.46 68.42,174.51 68.98,171.56 69.54,169.73 70.10,169.11 70.66,169.73 71.22,171.56 71.78,174.51 72.34,178.46 72.90,183.23 73.46,188.61 74.02,194.40 74.58,200.39 75.14,206.38 75.70,212.19 76.26,217.68 76.82,222.74 77.39,227.29 77.95,231.31 78.51,234.77 79.07,237.69 79.63,240.11 80.19,242.08 80.75,243.65 81.31,244.87 81.87,245.82 82.43,246.53 82.99,247.06 83.55,247.44 84.11,247.71 84.67,247.91 85.23,248.04 85.79,248.13 86.35,248.19" fill="none" stroke="#0000ff" stroke-width="0.85" stroke-linejoin="round"/>
<polyline points="22.45,248.19 23.01,248.13 23.57,248.04 24.13,247.91 24.69,247.71 25.25,247.44 25.81,247.06 26.37,246.53 26.94,245.82 27.50,244.87 28.06,243.65 28.62,242.08 29.18,240.11 29.74,237.69 30.30,234.77 30.86,231.31 31.42,227.29 31.98,222.74 32.54,217.68 33.10,212.19 33.66,206.38 34.22,200.39 34.78,194.40 35.34,188.61 35.90,183.23 36.46,178.46 37.03,174.51 37.59,171.56 38.15,169.73 38.71,169.11 39.27,169.73 39.83,171.56 40.39,174.51 40.95,178.46 41.51,183.23 42.07,188.61 42.63,194.40 43.19,200.39 43.75,206.38 44.31,212.19 44.87,217.68 45.43,222.74 45.99,227.29 46.55,231.31 47.12,234.77 47.68,237.69 48.24,240.11 48.80,242.08 49.36,243.65 49.92,244.87 50.48,245.82 51.04,246.53 51.60,247.06 52.16,247.44 52.72,247.71 53.28,247.91 53.84,248.04 54.40,248.13 54.96,248.19" fill="none" stroke="#ff0000" stroke-width="0.85" stroke-linejoin="round"/>
<polyline points="58.33,248.19 58.89,248.13 59.45,248.04 60.01,247.91 60.57,247.71 61.13,247.44 61.69,247.06 62.25,246.53 62.81,245.82 63.37,244.87 63.93,243.65 64.49,242.08 65.05,240.11 65.61,237.69 66.17,234.77 66.73,231.31 67.30,227.29 67.86,222.74 68.42,217.68 68.98,212.19 69.54,206.38 70.10,200.39 70.66,194.40 71.22,188.61 71.78,183.23 72.34,178.46 72.90,174.51 73.46,171.56 74.02,169.73 74.58,169.11 75.14,169.73 75.70,171.56 76.26,174.51 76.82,178.46 77.39,183.23 77.95,188.61 78.51,194.40 79.07,200.39 79.63,206.38 80.19,212.19 80.75,217.68 81.31,222.74 81.87,227.29 82.43,231.31 82.99,234.77 83.55,237.69 84.11,240.11 84.67,242.08 85.23,243.65 85.79,244.87 86.35,245.82 86.91,246.53 87.47,247.06 88.04,247.44 88.60,247.71 89.16,247.91 89.72,248.04 90.28,248.13 90.84,248.19" fill="none" stroke="#ff0000" stroke-width="0.85" stroke-linejoin="round"/>
<polyline points="26.94,248.19 27.50,248.13 28.06,248.04 28.62,247.91 29.18,247.71 29.74,247.44 30.30,247.06 30.86,246.53 31.42,245.82 31.98,244.87 32.54,243.65 33.10,242.08 33.66,240.11 34.22,237.69 34.78,234.77 35.34,231.31 35.90,227.29 36.46,222.74 37.03,217.68 37.59,212.19 38.15,206.38 38.71,200.39 39.27,194.40 39.83,188.61 40.39,183.23 40.95,178.46 41.51,174.51 42.07,171.56 42.63,169.73 43.19,169.11 43.75,169.73 44.31,171.56 44.87,174.51 45.43,178.46 45.99,183.23 46.55,188.61 47.12,194.40 47.68,200.39 48.24,206.38 48.80,212.19 49.36,217.68 49.92,222.74 50.48,227.29 51.04,231.31 51.60,234.77 52.16,237.69 52.72,240.11 53.28,242.08 53.84,243.65 54.40,244.87 54.96,245.82 55.52,246.53 56.08,247.06 56.64,247.44 57.20,247.71 57.77,247.91 58.33,248.04 58.89,248.13 59.45,248.19" fill="none" stroke="#00ff00" stroke-width="0.85" stroke-linejoin="round"/>
<polyline points="62.81,248.19 63.37,248.13 63.93,248.04 64.49,247.91 65.05,247.71 65.61,247.44 66.17,247.06 66.73,246.53 67.30,245.82 67.86,244.87 68.42,243.65 68.98,242.08 69.54,240.11 70.10,237.69 70.66,234.77 71.22,231.31 71.78,227.29 72.34,222.74 72.90,217.68 73.46,212.19 74.02,206.38 74.58,200.39 75.14,194.40 75.70,188.61 76.26,183.23 76.82,178.46 77.39,174.51 77.95,171.56 78.51,169.73 79.07,169.11 79.63,169.73 80.19,171.56 80.75,174.51 81.31,178.46 81.87,183.23 82.43,188.61 82.99,194.40 83.55,200.39 84.11,206.38 84.67,212.19 85.23,217.68 85.79,222.74 86.35,227.29 86.91,231.31 87.47,234.77 88.04,237.69 88.60,240.11 89.16,242.08 89.72,243.65 90.28,244.87 90.84,245.82 91.40,246.53 91.96,247.06 92.52,247.44 93.08,247.71 93.64,247.91 94.20,248.04 94.76,248.13 95.32,248.19" fill="none" stroke="#00ff00" stroke-width="0.85" stroke-linejoin="round"/>
<polyline points="31.42,248.19 31.98,248.13 32.54,248.04 33.10,247.91 33.66,247.71 34.22,247.44 34.78,247.06 35.34,246.53 35.90,245.82 36.46,244.87 37.03,243.65 37.59,242.08 38.15,240.11 38.71,237.69 39.27,234.77 39.83,231.31 40.39,227.29 40.95,222.74 41.51,217.68 42.07,212.19 42.63,206.38 43.19,200.39 43.75,194.40 44.31,188.61 44.87,183.23 45.43,178.46 45.99,174.51 46.55,171.56 47.12,169.73 47.68,169.11 48.24,169.73 48.80,171.56 49.36,174.51 49.92,178.46 50.48,183.23 51.04,188.61 51.60,194.40 52.16,200.39 52.72,206.38 53.28,212.19 53.84,217.68 54.40,222.74 54.96,227.29 55.52,231.31 56.08,234.77 56.64,237.69 57.20,240.11 57.77,242.08 58.33,243.65 58.89,244.87 59.45,245.82 60.01,246.53 60.57,247.06 61.13,247.44 61.69,247.71 62.25,247.91 62.81,248.04 63.37,248.13 63.93,248.19" fill="none" stroke="#ffff00" stroke-width="0.85" stroke-linejoin="round"/>
<polyline points="67.30,248.19 67.86,248.13 68.42,248.04 68.98,247.91 69.54,247.71 70.10,247.44 70.66,247.06 71.22,246.53 71.78,245.82 72.34,244.87 72.90,243.65 73.46,242.08 74.02,240.11 74.58,237.69 75.14,234.77 75.70,231.31 76.26,227.29 76.82,222.74 77.39,217.68 77.95,212.19 78.51,206.38 79.07,200.39 79.63,194.40 80.19,188.61 80.75,183.23 81.31,178.46 81.87,174.51 82.43,171.56 82.99,169.73 83.55,169.11 84.11,169.73 84.67,171.56 85.23,174.51 85.79,178.46 86.35,183.23 86.91,188.61 87.47,194.40 88.04,200.39 88.60,206.38 89.16,212.19 89.72,217.68 90.28,222.74 90.84,227.29 91.40,231.31 91.96,234.77 92.52,237.69 93.08,240.11 93.64,242.08 94.20,243.65 94.76,244.87 95.32,245.82 95.88,246.53 96.44,247.06 97.00,247.44 97.56,247.71 98.13,247.91 98.69,248.04 99.25,248.13 99.81,248.19" fill="none" stroke="#ffff00" stroke-width="0.85" stroke-linejoin="round"/>
<polyline points="35.90,248.19 36.46,248.13 37.03,248.04 37.59,247.91 38.15,247.71 38.71,247.44 39.27,247.06 39.83,246.53 40.39,245.82 40.95,244.87 41.51,243.65 42.07,242.08 42.63,240.11 43.19,237.69 43.75,234.77 44.31,231.31 44.87,227.29 45.43,222.74 45.99,217.68 46.55,212.19 47.12,206.38 47.68,200.39 48.24,194.40 48.80,188.61 49.36,183.23 49.92,178.46 50.48,174.51 51.04,171.56 51.60,169.73 52.16,169.11 52.72,169.73 53.28,171.56 53.84,174.51 54.40,178.46 54.96,183.23 55.52,188.61 56.08,194.40 56.64,200.39 57.20,206.38 57.77,212.19 58.33,217.68 58.89,222.74 59.45,227.29 60.01,231.31 60.57,234.77 61.13,237.69 61.69,240.11 62.25,242.08 62.81,243.65 63.37,244.87 63.93,245.82 64.49,246.53 65.05,247.06 65.61,247.44 66.17,247.71 66.73,247.91 67.30,248.04 67.86,248.13 68.42,248.19" fill="none" stroke="#ff00ff" stroke-width="0.85" stroke-linejoin="round"/>
<polyline points="71.78,248.19 72.34,248.13 72.90,248.04 73.46,247.91 74.02,247.71 74.58,247.44 75.14,247.06 75.70,246.53 76.26,245.82 76.82,244.87 77.39,243.65 77.95,242.08 78.51,240.11 79.07,237.69 79.63,234.77 80.19,231.31 80.75,227.29 81.31,222.74 81.87,217.68 82.43,212.19 82.99,206.38 83.55,200.39 84.11,194.40 84.67,188.61 85.23,183.23 85.79,178.46 86.35,174.51 86.91,171.56 87.47,169.73 88.04,169.11 88.60,169.73 89.16,171.56 89.72,174.51 90.28,178.46 90.84,183.23 91.40,188.61 91.96,194.40 92.52,200.39 93.08,206.38 93.64,212.19 94.20,217.68 94.76,222.74 95.32,227.29 95.88,231.31 96.44,234.77 97.00,237.69 97.56,240.11 98.13,242.08 98.69,243.65 99.25,244.87 99.81,245.82 100.37,246.53 100.93,247.06 101.49,247.44 102.05,247.71 102.61,247.91 103.17,248.04 103.73,248.13 104.29,248.19" fill="none" stroke="#ff00ff" stroke-width="0.85" stroke-linejoin="round"/>
<path d="M155.60 169.10H256.60V248.30" fill="none" stroke="#b4b4b4" stroke-width="0.55"/>
<path d="M155.60 169.10V248.30H256.60" fill="none" stroke="#a4a4a4" stroke-width="0.55"/>
<path d="M155.60 248.30v-1M155.60 169.10v1M172.43 248.30v-1M172.43 169.10v1M189.27 248.30v-1M189.27 169.10v1M206.10 248.30v-1M206.10 169.10v1M222.93 248.30v-1M222.93 169.10v1M239.77 248.30v-1M239.77 169.10v1M256.60 248.30v-1M256.60 169.10v1M155.60 248.30h1M256.60 248.30h-1M155.60 238.40h1M256.60 238.40h-1M155.60 228.50h1M256.60 228.50h-1M155.60 218.60h1M256.60 218.60h-1M155.60 208.70h1M256.60 208.70h-1M155.60 198.80h1M256.60 198.80h-1M155.60 188.90h1M256.60 188.90h-1M155.60 179.00h1M256.60 179.00h-1M155.60 169.10h1M256.60 169.10h-1" stroke="#b0b0b0" stroke-width="0.4" fill="none"/>
<g class="tk" text-anchor="middle">
<text x="155.40" y="252.75">-20</text>
<text x="172.23" y="252.75">-10</text>
<text x="189.07" y="252.75">0</text>
<text x="205.90" y="252.75">10</text>
<text x="222.73" y="252.75">20</text>
<text x="239.57" y="252.75">30</text>
<text x="256.40" y="252.75">40</text>
</g>
<g class="tk" text-anchor="end">
<text x="154.00" y="249.65">0</text>
<text x="154.00" y="239.75">0.05</text>
<text x="154.00" y="229.85">0.1</text>
<text x="154.00" y="219.95">0.15</text>
<text x="154.00" y="210.05">0.2</text>
<text x="154.00" y="200.15">0.25</text>
<text x="154.00" y="190.25">0.3</text>
<text x="154.00" y="180.35">0.35</text>
<text x="154.00" y="170.45">0.4</text>
</g>
<polyline points="196.00,248.27 197.68,247.42 199.37,237.61 201.05,200.39 202.73,169.31 204.42,200.39 206.10,237.61 207.78,247.42 209.47,248.27" fill="none" stroke="#0000ff" stroke-width="0.85" stroke-linejoin="round"/>
<polyline points="164.02,245.12 165.70,244.93 167.38,244.75 169.07,244.57 170.75,244.40 172.43,244.24 174.12,244.09 175.80,243.94 177.48,243.81 179.17,243.70 180.85,243.60 182.53,243.51 184.22,243.45 185.90,243.40 187.58,243.37 189.27,243.36 190.95,243.37 192.63,243.40 194.32,243.45 196.00,243.51 197.68,243.60 199.37,243.70 201.05,243.81 202.73,243.94 204.42,244.09 206.10,244.24 207.78,244.40 209.47,244.57 211.15,244.75 212.83,244.93 214.52,245.12 216.20,245.31 217.88,245.49 219.57,245.68 221.25,245.86 222.93,246.04 224.62,246.21 226.30,246.38 227.98,246.54 229.67,246.70 231.35,246.84 233.03,246.98 234.72,247.11 236.40,247.23 238.08,247.34 239.77,247.45 240.78,247.51" fill="none" stroke="#0000ff" stroke-width="0.85" stroke-linejoin="round"/>
<polyline points="190.95,248.21 192.63,247.86 194.32,246.56 196.00,242.95 197.68,235.48 199.37,224.34 201.05,213.45 202.73,208.80 204.42,213.45 206.10,224.34 207.78,235.48 209.47,242.95 211.15,246.56 212.83,247.86 214.52,248.21" fill="none" stroke="#ff0000" stroke-width="0.85" stroke-linejoin="round"/>
<polyline points="164.02,246.60 165.70,246.16 167.38,245.66 169.07,245.09 170.75,244.46 172.43,243.78 174.12,243.06 175.80,242.31 177.48,241.57 179.17,240.85 180.85,240.18 182.53,239.59 184.22,239.10 185.90,238.73 187.58,238.50 189.27,238.43 190.95,238.50 192.63,238.73 194.32,239.10 196.00,239.59 197.68,240.18 199.37,240.85 201.05,241.57 202.73,242.31 204.42,243.06 206.10,243.78 207.78,244.46 209.47,245.09 211.15,245.66 212.83,246.16 214.52,246.60 216.20,246.96 217.88,247.27 219.57,247.51 221.25,247.71 222.93,247.87 224.62,247.99 226.30,248.07 227.98,248.14 229.67,248.19" fill="none" stroke="#ff0000" stroke-width="0.85" stroke-linejoin="round"/>
<polyline points="164.02,248.14 165.70,248.07 167.38,247.99 169.07,247.87 170.75,247.71 172.43,247.51 174.12,247.27 175.80,246.96 177.48,246.60 179.17,246.16 180.85,245.66 182.53,245.09 184.22,244.46 185.90,243.78 187.58,243.06 189.27,242.31 190.95,241.57 192.63,240.85 194.32,240.18 196.00,239.59 197.68,239.10 199.37,238.73 201.05,238.50 202.73,238.43 204.42,238.50 206.10,238.73 207.78,239.10 209.47,239.59 211.15,240.18 212.83,240.85 214.52,241.57 216.20,242.31 217.88,243.06 219.57,243.78 221.25,244.46 222.93,245.09 224.62,245.66 226.30,246.16 227.98,246.60 229.67,246.96 231.35,247.27 233.03,247.51 234.72,247.71 236.40,247.87 238.08,247.99 239.77,248.07 240.78,248.12" fill="none" stroke="#00ff00" stroke-width="0.85" stroke-linejoin="round"/>
<polyline points="167.38,248.20 169.07,248.08 170.75,247.85 172.43,247.43 174.12,246.73 175.80,245.63 177.48,244.03 179.17,241.89 180.85,239.26 182.53,236.32 184.22,233.39 185.90,230.87 187.58,229.16 189.27,228.55 190.95,229.16 192.63,230.87 194.32,233.39 196.00,236.32 197.68,239.26 199.37,241.89 201.05,244.03 202.73,245.63 204.42,246.73 206.10,247.43 207.78,247.85 209.47,248.08 211.15,248.20" fill="none" stroke="#00ff00" stroke-width="0.85" stroke-linejoin="round"/>
<polyline points="180.85,248.20 182.53,248.08 184.22,247.85 185.90,247.43 187.58,246.73 189.27,245.63 190.95,244.03 192.63,241.89 194.32,239.26 196.00,236.32 197.68,233.39 199.37,230.87 201.05,229.16 202.73,228.55 204.42,229.16 206.10,230.87 207.78,233.39 209.47,236.32 211.15,239.26 212.83,241.89 214.52,244.03 216.20,245.63 217.88,246.73 219.57,247.43 221.25,247.85 222.93,248.08 224.62,248.20" fill="none" stroke="#ffff00" stroke-width="0.85" stroke-linejoin="round"/>
<polyline points="177.48,248.21 179.17,247.86 180.85,246.56 182.53,242.95 184.22,235.48 185.90,224.34 187.58,213.45 189.27,208.80 190.95,213.45 192.63,224.34 194.32,235.48 196.00,242.95 197.68,246.56 199.37,247.86 201.05,248.21" fill="none" stroke="#ffff00" stroke-width="0.85" stroke-linejoin="round"/>
<polyline points="164.02,246.54 165.70,246.38 167.38,246.21 169.07,246.04 170.75,245.86 172.43,245.68 174.12,245.49 175.80,245.31 177.48,245.12 179.17,244.93 180.85,244.75 182.53,244.57 184.22,244.40 185.90,244.24 187.58,244.09 189.27,243.94 190.95,243.81 192.63,243.70 194.32,243.60 196.00,243.51 197.68,243.45 199.37,243.40 201.05,243.37 202.73,243.36 204.42,243.37 206.10,243.40 207.78,243.45 209.47,243.51 211.15,243.60 212.83,243.70 214.52,243.81 216.20,243.94 217.88,244.09 219.57,244.24 221.25,244.40 222.93,244.57 224.62,244.75 226.30,244.93 227.98,245.12 229.67,245.31 231.35,245.49 233.03,245.68 234.72,245.86 236.40,246.04 238.08,246.21 239.77,246.38 240.78,246.48" fill="none" stroke="#ff00ff" stroke-width="0.85" stroke-linejoin="round"/>
<polyline points="164.02,248.30 165.70,248.30 167.38,248.30 169.07,248.30 170.75,248.30 172.43,248.30 174.12,248.30 175.80,248.30 177.48,248.30 179.17,248.30 180.85,248.30 182.53,248.27 184.22,247.42 185.90,237.61 187.58,200.39 189.27,169.31 190.95,200.39 192.63,237.61 194.32,247.42 196.00,248.27 197.68,248.30 199.37,248.30 201.05,248.30 202.73,248.30 204.42,248.30 206.10,248.30 207.78,248.30 209.47,248.30 211.15,248.30 212.83,248.30 214.52,248.30 216.20,248.30 217.88,248.30 219.57,248.30 221.25,248.30 222.93,248.30 224.62,248.30 226.30,248.30 227.98,248.30 229.67,248.30 231.35,248.30 233.03,248.30 234.72,248.30 236.40,248.30 238.08,248.30 239.77,248.30 240.78,248.30" fill="none" stroke="#ff00ff" stroke-width="0.85" stroke-linejoin="round"/>
<path d="M299.50 169.10H400.70V248.30" fill="none" stroke="#b4b4b4" stroke-width="0.55"/>
<path d="M299.50 169.10V248.30H400.70" fill="none" stroke="#a4a4a4" stroke-width="0.55"/>
<path d="M299.50 248.30v-1M299.50 169.10v1M316.37 248.30v-1M316.37 169.10v1M333.23 248.30v-1M333.23 169.10v1M350.10 248.30v-1M350.10 169.10v1M366.97 248.30v-1M366.97 169.10v1M383.83 248.30v-1M383.83 169.10v1M400.70 248.30v-1M400.70 169.10v1M299.50 248.30h1M400.70 248.30h-1M299.50 240.38h1M400.70 240.38h-1M299.50 232.46h1M400.70 232.46h-1M299.50 224.54h1M400.70 224.54h-1M299.50 216.62h1M400.70 216.62h-1M299.50 208.70h1M400.70 208.70h-1M299.50 200.78h1M400.70 200.78h-1M299.50 192.86h1M400.70 192.86h-1M299.50 184.94h1M400.70 184.94h-1M299.50 177.02h1M400.70 177.02h-1M299.50 169.10h1M400.70 169.10h-1" stroke="#b0b0b0" stroke-width="0.4" fill="none"/>
<g class="tk" text-anchor="middle">
<text x="299.30" y="252.75">-20</text>
<text x="316.17" y="252.75">-10</text>
<text x="333.03" y="252.75">0</text>
<text x="349.90" y="252.75">10</text>
<text x="366.77" y="252.75">20</text>
<text x="383.63" y="252.75">30</text>
<text x="400.50" y="252.75">40</text>
</g>
<g class="tk" text-anchor="end">
<text x="297.90" y="249.65">0</text>
<text x="297.90" y="241.73">0.01</text>
<text x="297.90" y="233.81">0.02</text>
<text x="297.90" y="225.89">0.03</text>
<text x="297.90" y="217.97">0.04</text>
<text x="297.90" y="210.05">0.05</text>
<text x="297.90" y="202.13">0.06</text>
<text x="297.90" y="194.21">0.07</text>
<text x="297.90" y="186.29">0.08</text>
<text x="297.90" y="178.37">0.09</text>
<text x="297.90" y="170.45">0.1</text>
</g>
<polyline points="307.93,248.23 308.78,248.19 309.62,248.13 310.46,248.04 311.31,247.91 312.15,247.71 312.99,247.44 313.84,247.06 314.68,246.53 315.52,245.82 316.37,244.87 317.21,243.65 318.05,242.08 318.90,240.11 319.74,237.69 320.58,234.77 321.43,231.31 322.27,227.29 323.11,222.74" fill="none" stroke="#0000ff" stroke-width="0.85" stroke-linejoin="round"/>
<polyline points="314.17,248.30 399.01,248.30" fill="none" stroke="#ff00ff" stroke-width="0.85" stroke-linejoin="round"/>
<polyline points="308.78,248.19 309.62,248.13 310.46,248.04 311.31,247.91 312.15,247.71 312.99,247.44 313.84,247.06 314.68,246.53 315.52,245.82 316.37,244.87 317.21,243.65 318.05,242.08 318.90,240.11 319.74,237.69 320.58,234.77 321.43,231.31 322.27,227.29 323.11,222.74 323.96,217.68 324.80,212.19 325.64,206.38 326.49,200.39 327.33,194.40 328.17,188.61 329.02,183.23 329.86,178.46 330.70,174.51 331.55,171.56 332.39,169.73 333.23,169.11 334.08,169.73 334.92,171.56 335.76,174.51 336.61,178.46 337.45,183.23 338.29,188.61 339.14,194.40 339.98,200.39 340.82,206.38 341.67,212.19 342.51,217.68 343.35,222.74 344.20,227.29 345.04,231.31 345.88,234.77 346.73,237.69 347.57,240.11 348.41,242.08 349.26,243.65 350.10,244.87 350.94,245.82 351.79,246.53 352.63,247.06 353.47,247.44 354.32,247.71 355.16,247.91 356.00,248.04 356.85,248.13 357.69,248.19" fill="none" stroke="#0000ff" stroke-width="0.85" stroke-linejoin="round"/>
<polyline points="315.52,248.19 316.37,248.13 317.21,248.04 318.05,247.91 318.90,247.71 319.74,247.44 320.58,247.06 321.43,246.53 322.27,245.82 323.11,244.87 323.96,243.65 324.80,242.08 325.64,240.11 326.49,237.69 327.33,234.77 328.17,231.31 329.02,227.29 329.86,222.74 330.70,217.68 331.55,212.19 332.39,206.38 333.23,200.39 334.08,194.40 334.92,188.61 335.76,183.23 336.61,178.46 337.45,174.51 338.29,171.56 339.14,169.73 339.98,169.11 340.82,169.73 341.67,171.56 342.51,174.51 343.35,178.46 344.20,183.23 345.04,188.61 345.88,194.40 346.73,200.39 347.57,206.38 348.41,212.19 349.26,217.68 350.10,222.74 350.94,227.29 351.79,231.31 352.63,234.77 353.47,237.69 354.32,240.11 355.16,242.08 356.00,243.65 356.85,244.87 357.69,245.82 358.53,246.53 359.38,247.06 360.22,247.44 361.06,247.71 361.91,247.91 362.75,248.04 363.59,248.13 364.44,248.19" fill="none" stroke="#ff0000" stroke-width="0.85" stroke-linejoin="round"/>
<polyline points="322.27,248.19 323.11,248.13 323.96,248.04 324.80,247.91 325.64,247.71 326.49,247.44 327.33,247.06 328.17,246.53 329.02,245.82 329.86,244.87 330.70,243.65 331.55,242.08 332.39,240.11 333.23,237.69 334.08,234.77 334.92,231.31 335.76,227.29 336.61,222.74 337.45,217.68 338.29,212.19 339.14,206.38 339.98,200.39 340.82,194.40 341.67,188.61 342.51,183.23 343.35,178.46 344.20,174.51 345.04,171.56 345.88,169.73 346.73,169.11 347.57,169.73 348.41,171.56 349.26,174.51 350.10,178.46 350.94,183.23 351.79,188.61 352.63,194.40 353.47,200.39 354.32,206.38 355.16,212.19 356.00,217.68 356.85,222.74 357.69,227.29 358.53,231.31 359.38,234.77 360.22,237.69 361.06,240.11 361.91,242.08 362.75,243.65 363.59,244.87 364.44,245.82 365.28,246.53 366.12,247.06 366.97,247.44 367.81,247.71 368.65,247.91 369.50,248.04 370.34,248.13 371.18,248.19" fill="none" stroke="#00ff00" stroke-width="0.85" stroke-linejoin="round"/>
<polyline points="329.02,248.19 329.86,248.13 330.70,248.04 331.55,247.91 332.39,247.71 333.23,247.44 334.08,247.06 334.92,246.53 335.76,245.82 336.61,244.87 337.45,243.65 338.29,242.08 339.14,240.11 339.98,237.69 340.82,234.77 341.67,231.31 342.51,227.29 343.35,222.74 344.20,217.68 345.04,212.19 345.88,206.38 346.73,200.39 347.57,194.40 348.41,188.61 349.26,183.23 350.10,178.46 350.94,174.51 351.79,171.56 352.63,169.73 353.47,169.11 354.32,169.73 355.16,171.56 356.00,174.51 356.85,178.46 357.69,183.23 358.53,188.61 359.38,194.40 360.22,200.39 361.06,206.38 361.91,212.19 362.75,217.68 363.59,222.74 364.44,227.29 365.28,231.31 366.12,234.77 366.97,237.69 367.81,240.11 368.65,242.08 369.50,243.65 370.34,244.87 371.18,245.82 372.03,246.53 372.87,247.06 373.71,247.44 374.56,247.71 375.40,247.91 376.24,248.04 377.09,248.13 377.93,248.19" fill="none" stroke="#ffff00" stroke-width="0.85" stroke-linejoin="round"/>
<polyline points="342.51,248.19 343.35,248.13 344.20,248.04 345.04,247.91 345.88,247.71 346.73,247.44 347.57,247.06 348.41,246.53 349.26,245.82 350.10,244.87 350.94,243.65 351.79,242.08 352.63,240.11 353.47,237.69 354.32,234.77 355.16,231.31 356.00,227.29 356.85,222.74 357.69,217.68 358.53,212.19 359.38,206.38 360.22,200.39 361.06,194.40 361.91,188.61 362.75,183.23 363.59,178.46 364.44,174.51 365.28,171.56 366.12,169.73 366.97,169.11 367.81,169.73 368.65,171.56 369.50,174.51 370.34,178.46 371.18,183.23 372.03,188.61 372.87,194.40 373.71,200.39 374.56,206.38 375.40,212.19 376.24,217.68 377.09,222.74 377.93,227.29 378.77,231.31 379.62,234.77 380.46,237.69 381.30,240.11 382.15,242.08 382.99,243.65 383.83,244.87 384.68,245.82 385.52,246.53 386.36,247.06 387.21,247.44 388.05,247.71 388.89,247.91 389.74,248.04 390.58,248.13 391.42,248.19" fill="none" stroke="#ffff00" stroke-width="0.85" stroke-linejoin="round"/>
<polyline points="335.76,248.19 336.61,248.13 337.45,248.04 338.29,247.91 339.14,247.71 339.98,247.44 340.82,247.06 341.67,246.53 342.51,245.82 343.35,244.87 344.20,243.65 345.04,242.08 345.88,240.11 346.73,237.69 347.57,234.77 348.41,231.31 349.26,227.29 350.10,222.74 350.94,217.68 351.79,212.19 352.63,206.38 353.47,200.39 354.32,194.40 355.16,188.61 356.00,183.23 356.85,178.46 357.69,174.51 358.53,171.56 359.38,169.73 360.22,169.11 361.06,169.73 361.91,171.56 362.75,174.51 363.59,178.46 364.44,183.23 365.28,188.61 366.12,194.40 366.97,200.39 367.81,206.38 368.65,212.19 369.50,217.68 370.34,222.74 371.18,227.29 372.03,231.31 372.87,234.77 373.71,237.69 374.56,240.11 375.40,242.08 376.24,243.65 377.09,244.87 377.93,245.82 378.77,246.53 379.62,247.06 380.46,247.44 381.30,247.71 382.15,247.91 382.99,248.04 383.83,248.13 384.68,248.19" fill="none" stroke="#ff00ff" stroke-width="0.85" stroke-linejoin="round"/>
<polyline points="349.26,248.19 350.10,248.13 350.94,248.04 351.79,247.91 352.63,247.71 353.47,247.44 354.32,247.06 355.16,246.53 356.00,245.82 356.85,244.87 357.69,243.65 358.53,242.08 359.38,240.11 360.22,237.69 361.06,234.77 361.91,231.31 362.75,227.29 363.59,222.74 364.44,217.68 365.28,212.19 366.12,206.38 366.97,200.39 367.81,194.40 368.65,188.61 369.50,183.23 370.34,178.46 371.18,174.51 372.03,171.56 372.87,169.73 373.71,169.11 374.56,169.73 375.40,171.56 376.24,174.51 377.09,178.46 377.93,183.23 378.77,188.61 379.62,194.40 380.46,200.39 381.30,206.38 382.15,212.19 382.99,217.68 383.83,222.74 384.68,227.29 385.52,231.31 386.36,234.77 387.21,237.69 388.05,240.11 388.89,242.08 389.74,243.65 390.58,244.87 391.42,245.82 392.27,246.53 393.11,247.06 393.95,247.44 394.80,247.71 395.64,247.91 396.48,248.04 397.33,248.13 398.17,248.19" fill="none" stroke="#ff00ff" stroke-width="0.85" stroke-linejoin="round"/>
<path d="M443.50 169.10H544.70V248.30" fill="none" stroke="#b4b4b4" stroke-width="0.55"/>
<path d="M443.50 169.10V248.30H544.70" fill="none" stroke="#a4a4a4" stroke-width="0.55"/>
<path d="M443.50 248.30v-1M443.50 169.10v1M457.96 248.30v-1M457.96 169.10v1M472.41 248.30v-1M472.41 169.10v1M486.87 248.30v-1M486.87 169.10v1M501.33 248.30v-1M501.33 169.10v1M515.79 248.30v-1M515.79 169.10v1M530.24 248.30v-1M530.24 169.10v1M544.70 248.30v-1M544.70 169.10v1M443.50 248.30h1M544.70 248.30h-1M443.50 238.40h1M544.70 238.40h-1M443.50 228.50h1M544.70 228.50h-1M443.50 218.60h1M544.70 218.60h-1M443.50 208.70h1M544.70 208.70h-1M443.50 198.80h1M544.70 198.80h-1M443.50 188.90h1M544.70 188.90h-1M443.50 179.00h1M544.70 179.00h-1M443.50 169.10h1M544.70 169.10h-1" stroke="#b0b0b0" stroke-width="0.4" fill="none"/>
<g class="tk" text-anchor="middle">
<text x="443.30" y="252.75">-20</text>
<text x="457.76" y="252.75">-10</text>
<text x="472.21" y="252.75">0</text>
<text x="486.67" y="252.75">10</text>
<text x="501.13" y="252.75">20</text>
<text x="515.59" y="252.75">30</text>
<text x="530.04" y="252.75">40</text>
<text x="544.50" y="252.75">50</text>
</g>
<g class="tk" text-anchor="end">
<text x="441.90" y="249.65">0</text>
<text x="441.90" y="239.75">0.05</text>
<text x="441.90" y="229.85">0.1</text>
<text x="441.90" y="219.95">0.15</text>
<text x="441.90" y="210.05">0.2</text>
<text x="441.90" y="200.15">0.25</text>
<text x="441.90" y="190.25">0.3</text>
<text x="441.90" y="180.35">0.35</text>
<text x="441.90" y="170.45">0.4</text>
</g>
<polyline points="512.89,248.27 514.34,247.42 515.79,237.61 517.23,200.39 518.68,169.31 520.12,200.39 521.57,237.61 523.01,247.42 524.46,248.27" fill="none" stroke="#0000ff" stroke-width="0.85" stroke-linejoin="round"/>
<polyline points="450.73,245.12 452.17,244.93 453.62,244.75 455.07,244.57 456.51,244.40 457.96,244.24 459.40,244.09 460.85,243.94 462.29,243.81 463.74,243.70 465.19,243.60 466.63,243.51 468.08,243.45 469.52,243.40 470.97,243.37 472.41,243.36 473.86,243.37 475.31,243.40 476.75,243.45 478.20,243.51 479.64,243.60 481.09,243.70 482.53,243.81 483.98,243.94 485.43,244.09 486.87,244.24 488.32,244.40 489.76,244.57 491.21,244.75 492.65,244.93 494.10,245.12 495.55,245.31 496.99,245.49 498.44,245.68 499.88,245.86 501.33,246.04 502.77,246.21 504.22,246.38 505.67,246.54 507.11,246.70 508.56,246.84 510.00,246.98 511.45,247.11 512.89,247.23 514.34,247.34 515.79,247.45 517.23,247.54 518.68,247.63 520.12,247.71 521.57,247.78 523.01,247.85 524.46,247.91 525.91,247.96 527.35,248.01 528.80,248.05 530.24,248.08 531.69,248.11 533.13,248.14 534.58,248.17 536.03,248.19" fill="none" stroke="#0000ff" stroke-width="0.85" stroke-linejoin="round"/>
<polyline points="508.56,248.21 510.00,247.86 511.45,246.56 512.89,242.95 514.34,235.48 515.79,224.34 517.23,213.45 518.68,208.80 520.12,213.45 521.57,224.34 523.01,235.48 524.46,242.95 525.91,246.56 527.35,247.86 528.80,248.21" fill="none" stroke="#ff0000" stroke-width="0.85" stroke-linejoin="round"/>
<polyline points="450.73,246.60 452.17,246.16 453.62,245.66 455.07,245.09 456.51,244.46 457.96,243.78 459.40,243.06 460.85,242.31 462.29,241.57 463.74,240.85 465.19,240.18 466.63,239.59 468.08,239.10 469.52,238.73 470.97,238.50 472.41,238.43 473.86,238.50 475.31,238.73 476.75,239.10 478.20,239.59 479.64,240.18 481.09,240.85 482.53,241.57 483.98,242.31 485.43,243.06 486.87,243.78 488.32,244.46 489.76,245.09 491.21,245.66 492.65,246.16 494.10,246.60 495.55,246.96 496.99,247.27 498.44,247.51 499.88,247.71 501.33,247.87 502.77,247.99 504.22,248.07 505.67,248.14 507.11,248.19" fill="none" stroke="#ff0000" stroke-width="0.85" stroke-linejoin="round"/>
<polyline points="483.98,248.19 485.43,248.14 486.87,248.07 488.32,247.99 489.76,247.87 491.21,247.71 492.65,247.51 494.10,247.27 495.55,246.96 496.99,246.60 498.44,246.16 499.88,245.66 501.33,245.09 502.77,244.46 504.22,243.78 505.67,243.06 507.11,242.31 508.56,241.57 510.00,240.85 511.45,240.18 512.89,239.59 514.34,239.10 515.79,238.73 517.23,238.50 518.68,238.43 520.12,238.50 521.57,238.73 523.01,239.10 524.46,239.59 525.91,240.18 527.35,240.85 528.80,241.57 530.24,242.31 531.69,243.06 533.13,243.78 534.58,244.46 536.03,245.09 537.47,245.66 538.92,246.16 539.78,246.43" fill="none" stroke="#00ff00" stroke-width="0.85" stroke-linejoin="round"/>
<polyline points="453.62,248.20 455.07,248.08 456.51,247.85 457.96,247.43 459.40,246.73 460.85,245.63 462.29,244.03 463.74,241.89 465.19,239.26 466.63,236.32 468.08,233.39 469.52,230.87 470.97,229.16 472.41,228.55 473.86,229.16 475.31,230.87 476.75,233.39 478.20,236.32 479.64,239.26 481.09,241.89 482.53,244.03 483.98,245.63 485.43,246.73 486.87,247.43 488.32,247.85 489.76,248.08 491.21,248.20" fill="none" stroke="#00ff00" stroke-width="0.85" stroke-linejoin="round"/>
<polyline points="499.88,248.20 501.33,248.08 502.77,247.85 504.22,247.43 505.67,246.73 507.11,245.63 508.56,244.03 510.00,241.89 511.45,239.26 512.89,236.32 514.34,233.39 515.79,230.87 517.23,229.16 518.68,228.55 520.12,229.16 521.57,230.87 523.01,233.39 524.46,236.32 525.91,239.26 527.35,241.89 528.80,244.03 530.24,245.63 531.69,246.73 533.13,247.43 534.58,247.85 536.03,248.08 537.47,248.20" fill="none" stroke="#ffff00" stroke-width="0.85" stroke-linejoin="round"/>
<polyline points="462.29,248.21 463.74,247.86 465.19,246.56 466.63,242.95 468.08,235.48 469.52,224.34 470.97,213.45 472.41,208.80 473.86,213.45 475.31,224.34 476.75,235.48 478.20,242.95 479.64,246.56 481.09,247.86 482.53,248.21" fill="none" stroke="#ffff00" stroke-width="0.85" stroke-linejoin="round"/>
<polyline points="455.07,248.19 456.51,248.17 457.96,248.14 459.40,248.11 460.85,248.08 462.29,248.05 463.74,248.01 465.19,247.96 466.63,247.91 468.08,247.85 469.52,247.78 470.97,247.71 472.41,247.63 473.86,247.54 475.31,247.45 476.75,247.34 478.20,247.23 479.64,247.11 481.09,246.98 482.53,246.84 483.98,246.70 485.43,246.54 486.87,246.38 488.32,246.21 489.76,246.04 491.21,245.86 492.65,245.68 494.10,245.49 495.55,245.31 496.99,245.12 498.44,244.93 499.88,244.75 501.33,244.57 502.77,244.40 504.22,244.24 505.67,244.09 507.11,243.94 508.56,243.81 510.00,243.70 511.45,243.60 512.89,243.51 514.34,243.45 515.79,243.40 517.23,243.37 518.68,243.36 520.12,243.37 521.57,243.40 523.01,243.45 524.46,243.51 525.91,243.60 527.35,243.70 528.80,243.81 530.24,243.94 531.69,244.09 533.13,244.24 534.58,244.40 536.03,244.57 537.47,244.75 538.92,244.93 539.78,245.04" fill="none" stroke="#ff00ff" stroke-width="0.85" stroke-linejoin="round"/>
<polyline points="450.73,248.30 452.17,248.30 453.62,248.30 455.07,248.30 456.51,248.30 457.96,248.30 459.40,248.30 460.85,248.30 462.29,248.30 463.74,248.30 465.19,248.30 466.63,248.27 468.08,247.42 469.52,237.61 470.97,200.39 472.41,169.31 473.86,200.39 475.31,237.61 476.75,247.42 478.20,248.27 479.64,248.30 481.09,248.30 482.53,248.30 483.98,248.30 485.43,248.30 486.87,248.30 488.32,248.30 489.76,248.30 491.21,248.30 492.65,248.30 494.10,248.30 495.55,248.30 496.99,248.30 498.44,248.30 499.88,248.30 501.33,248.30 502.77,248.30 504.22,248.30 505.67,248.30 507.11,248.30 508.56,248.30 510.00,248.30 511.45,248.30 512.89,248.30 514.34,248.30 515.79,248.30 517.23,248.30 518.68,248.30 520.12,248.30 521.57,248.30 523.01,248.30 524.46,248.30 525.91,248.30 527.35,248.30 528.80,248.30 530.24,248.30 531.69,248.30 533.13,248.30 534.58,248.30 536.03,248.30 537.47,248.30 538.92,248.30 539.78,248.30" fill="none" stroke="#ff00ff" stroke-width="0.85" stroke-linejoin="round"/>
<text class="cap" x="113.40" y="135.3" textLength="64.0" lengthAdjust="spacingAndGlyphs">(instance 1)</text>
<text class="cap" x="388.00" y="138.7" textLength="64.0" lengthAdjust="spacingAndGlyphs">(instance 2)</text>
<text class="cap" x="99.80" y="299.9" textLength="64.0" lengthAdjust="spacingAndGlyphs">(instance 3)</text>
<text class="cap" x="388.00" y="300.8" textLength="64.0" lengthAdjust="spacingAndGlyphs">(instance 4)</text>
</svg>
</body></html>
